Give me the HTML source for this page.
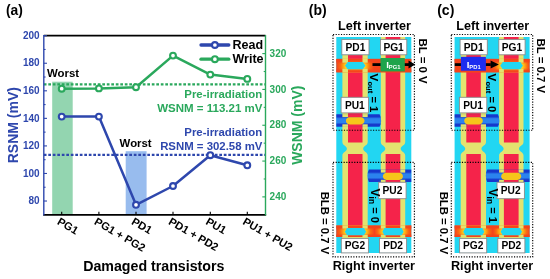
<!DOCTYPE html>
<html lang="en">
<head>
<meta charset="utf-8">
<title>Figure</title>
<style>
html,body{margin:0;padding:0;background:#fff;}
body{width:550px;height:279px;overflow:hidden;}
svg{display:block;font-family:'Liberation Sans', sans-serif;font-weight:bold;}
</style>
</head>
<body>
<svg width="550" height="279" viewBox="0 0 550 279">
<rect width="550" height="279" fill="#fff"/>
<rect x="52.2" y="81.7" width="20.5" height="133.1" fill="#93d5b0"/>
<rect x="125.7" y="151.2" width="20.9" height="63.6" fill="#98bcee"/>
<line x1="43.8" x2="265.5" y1="84.4" y2="84.4" stroke="#2aa85c" stroke-width="2.1" stroke-dasharray="2.7 1.8"/>
<line x1="43.8" x2="265.5" y1="154.9" y2="154.9" stroke="#2e47ad" stroke-width="2.1" stroke-dasharray="2.7 1.8"/>
<line x1="43.8" x2="265.5" y1="35.7" y2="35.7" stroke="#000" stroke-width="1.7"/>
<line x1="43.15" x2="266.15" y1="214.8" y2="214.8" stroke="#000" stroke-width="1.7"/>
<line x1="43.8" x2="43.8" y1="35.050000000000004" y2="215.45000000000002" stroke="#2e47ad" stroke-width="1.4"/>
<line x1="265.5" x2="265.5" y1="35.050000000000004" y2="215.45000000000002" stroke="#2aa85c" stroke-width="1.4"/>
<line x1="43.8" x2="47.0" y1="201.02" y2="201.02" stroke="#2e47ad" stroke-width="1.1"/>
<line x1="43.8" x2="45.599999999999994" y1="187.25" y2="187.25" stroke="#2e47ad" stroke-width="1.1"/>
<line x1="43.8" x2="47.0" y1="173.47" y2="173.47" stroke="#2e47ad" stroke-width="1.1"/>
<line x1="43.8" x2="45.599999999999994" y1="159.69" y2="159.69" stroke="#2e47ad" stroke-width="1.1"/>
<line x1="43.8" x2="47.0" y1="145.92" y2="145.92" stroke="#2e47ad" stroke-width="1.1"/>
<line x1="43.8" x2="45.599999999999994" y1="132.14" y2="132.14" stroke="#2e47ad" stroke-width="1.1"/>
<line x1="43.8" x2="47.0" y1="118.36" y2="118.36" stroke="#2e47ad" stroke-width="1.1"/>
<line x1="43.8" x2="45.599999999999994" y1="104.58" y2="104.58" stroke="#2e47ad" stroke-width="1.1"/>
<line x1="43.8" x2="47.0" y1="90.81" y2="90.81" stroke="#2e47ad" stroke-width="1.1"/>
<line x1="43.8" x2="45.599999999999994" y1="77.03" y2="77.03" stroke="#2e47ad" stroke-width="1.1"/>
<line x1="43.8" x2="47.0" y1="63.25" y2="63.25" stroke="#2e47ad" stroke-width="1.1"/>
<line x1="43.8" x2="45.599999999999994" y1="49.48" y2="49.48" stroke="#2e47ad" stroke-width="1.1"/>
<line x1="43.8" x2="47.0" y1="35.70" y2="35.70" stroke="#2e47ad" stroke-width="1.1"/>
<text x="39.6" y="204.22" text-anchor="end" font-size="10" fill="#2e47ad">80</text>
<text x="39.6" y="176.67" text-anchor="end" font-size="10" fill="#2e47ad">100</text>
<text x="39.6" y="149.12" text-anchor="end" font-size="10" fill="#2e47ad">120</text>
<text x="39.6" y="121.56" text-anchor="end" font-size="10" fill="#2e47ad">140</text>
<text x="39.6" y="94.01" text-anchor="end" font-size="10" fill="#2e47ad">160</text>
<text x="39.6" y="66.45" text-anchor="end" font-size="10" fill="#2e47ad">180</text>
<text x="39.6" y="38.90" text-anchor="end" font-size="10" fill="#2e47ad">200</text>
<line x1="265.5" x2="262.3" y1="196.89" y2="196.89" stroke="#2aa85c" stroke-width="1.1"/>
<line x1="265.5" x2="263.7" y1="178.98" y2="178.98" stroke="#2aa85c" stroke-width="1.1"/>
<line x1="265.5" x2="262.3" y1="161.07" y2="161.07" stroke="#2aa85c" stroke-width="1.1"/>
<line x1="265.5" x2="263.7" y1="143.16" y2="143.16" stroke="#2aa85c" stroke-width="1.1"/>
<line x1="265.5" x2="262.3" y1="125.25" y2="125.25" stroke="#2aa85c" stroke-width="1.1"/>
<line x1="265.5" x2="263.7" y1="107.34" y2="107.34" stroke="#2aa85c" stroke-width="1.1"/>
<line x1="265.5" x2="262.3" y1="89.43" y2="89.43" stroke="#2aa85c" stroke-width="1.1"/>
<line x1="265.5" x2="263.7" y1="71.52" y2="71.52" stroke="#2aa85c" stroke-width="1.1"/>
<line x1="265.5" x2="262.3" y1="53.61" y2="53.61" stroke="#2aa85c" stroke-width="1.1"/>
<text x="269.6" y="200.09" font-size="10" fill="#2aa85c">240</text>
<text x="269.6" y="164.27" font-size="10" fill="#2aa85c">260</text>
<text x="269.6" y="128.45" font-size="10" fill="#2aa85c">280</text>
<text x="269.6" y="92.63" font-size="10" fill="#2aa85c">300</text>
<text x="269.6" y="56.81" font-size="10" fill="#2aa85c">320</text>
<line x1="61.7" x2="61.7" y1="214.8" y2="211.8" stroke="#000" stroke-width="1.1"/>
<line x1="98.9" x2="98.9" y1="214.8" y2="211.8" stroke="#000" stroke-width="1.1"/>
<line x1="136.0" x2="136.0" y1="214.8" y2="211.8" stroke="#000" stroke-width="1.1"/>
<line x1="173.0" x2="173.0" y1="214.8" y2="211.8" stroke="#000" stroke-width="1.1"/>
<line x1="210.3" x2="210.3" y1="214.8" y2="211.8" stroke="#000" stroke-width="1.1"/>
<line x1="247.3" x2="247.3" y1="214.8" y2="211.8" stroke="#000" stroke-width="1.1"/>
<text transform="translate(56.4,223.7) rotate(30)" font-size="11" fill="#000">PG1</text>
<text transform="translate(93.6,223.7) rotate(30)" font-size="11" fill="#000">PG1 + PG2</text>
<text transform="translate(130.7,223.7) rotate(30)" font-size="11" fill="#000">PD1</text>
<text transform="translate(167.7,223.7) rotate(30)" font-size="11" fill="#000">PD1 + PD2</text>
<text transform="translate(205.0,223.7) rotate(30)" font-size="11" fill="#000">PU1</text>
<text transform="translate(242.0,223.7) rotate(30)" font-size="11" fill="#000">PU1 + PU2</text>
<polyline points="61.7,88.7 98.9,88.4 136.0,87.2 173.0,55.6 210.3,74.6 247.3,78.9" fill="none" stroke="#2aa85c" stroke-width="2.5" stroke-linejoin="round"/>
<circle cx="61.7" cy="88.7" r="2.9" fill="#fff" stroke="#2aa85c" stroke-width="2.1"/>
<circle cx="98.9" cy="88.4" r="2.9" fill="#fff" stroke="#2aa85c" stroke-width="2.1"/>
<circle cx="136.0" cy="87.2" r="2.9" fill="#fff" stroke="#2aa85c" stroke-width="2.1"/>
<circle cx="173.0" cy="55.6" r="2.9" fill="#fff" stroke="#2aa85c" stroke-width="2.1"/>
<circle cx="210.3" cy="74.6" r="2.9" fill="#fff" stroke="#2aa85c" stroke-width="2.1"/>
<circle cx="247.3" cy="78.9" r="2.9" fill="#fff" stroke="#2aa85c" stroke-width="2.1"/>
<polyline points="61.7,116.6 98.9,116.6 136.0,204.8 173.0,186.0 210.3,155.2 247.3,165.3" fill="none" stroke="#2e47ad" stroke-width="2.5" stroke-linejoin="round"/>
<circle cx="61.7" cy="116.6" r="2.9" fill="#fff" stroke="#2e47ad" stroke-width="2.1"/>
<circle cx="98.9" cy="116.6" r="2.9" fill="#fff" stroke="#2e47ad" stroke-width="2.1"/>
<circle cx="136.0" cy="204.8" r="2.9" fill="#fff" stroke="#2e47ad" stroke-width="2.1"/>
<circle cx="173.0" cy="186.0" r="2.9" fill="#fff" stroke="#2e47ad" stroke-width="2.1"/>
<circle cx="210.3" cy="155.2" r="2.9" fill="#fff" stroke="#2e47ad" stroke-width="2.1"/>
<circle cx="247.3" cy="165.3" r="2.9" fill="#fff" stroke="#2e47ad" stroke-width="2.1"/>
<line x1="201" x2="228.8" y1="45.0" y2="45.0" stroke="#2e47ad" stroke-width="3.3" stroke-linecap="round"/>
<circle cx="214.9" cy="45.0" r="2.9" fill="#fff" stroke="#2e47ad" stroke-width="2.1"/>
<text x="232.5" y="48.6" font-size="12.5" fill="#000">Read</text>
<line x1="201" x2="228.8" y1="59.2" y2="59.2" stroke="#2aa85c" stroke-width="3.3" stroke-linecap="round"/>
<circle cx="214.9" cy="59.2" r="2.9" fill="#fff" stroke="#2aa85c" stroke-width="2.1"/>
<text x="232.5" y="62.8" font-size="12.5" fill="#000">Write</text>
<text x="47.0" y="76.9" font-size="11.4" fill="#000">Worst</text>
<text x="119.6" y="147" font-size="11.4" fill="#000">Worst</text>
<text x="262.2" y="98" text-anchor="end" font-size="11.4" fill="#2aa85c">Pre-irradiation</text>
<text x="262.4" y="112.1" text-anchor="end" font-size="11.5" fill="#2aa85c">WSNM = 113.21 mV</text>
<text x="262.2" y="136.4" text-anchor="end" font-size="11.4" fill="#2e47ad">Pre-irradiation</text>
<text x="262.4" y="150.4" text-anchor="end" font-size="11.4" fill="#2e47ad">RSNM = 302.58 mV</text>
<text transform="translate(17.5,125.2) rotate(-90)" text-anchor="middle" font-size="14" fill="#2e47ad">RSNM (mV)</text>
<text transform="translate(301.5,125.2) rotate(-90)" text-anchor="middle" font-size="14" fill="#2aa85c">WSNM (mV)</text>
<text x="153.8" y="271.4" text-anchor="middle" font-size="14.2" fill="#000">Damaged transistors</text>
<text x="6" y="15" font-size="13.8" fill="#000">(a)</text>
<text x="308.8" y="14.9" font-size="14" fill="#000">(b)</text>
<text x="437.2" y="15" font-size="14" fill="#000">(c)</text>
<g transform="translate(0,0)"><rect x="336.3" y="37.0" width="75.0" height="216.0" fill="#22d6f2"/>
<path d="M342.4,55 H367.7 V142.0 C367.7,145.6 363.2,145.8 363.2,148.8 C363.2,151.8 367.7,152.0 367.7,155.6 V238.4 H342.4 V155.6 C342.4,152.0 346.9,151.8 346.9,148.8 C346.9,145.8 342.4,145.6 342.4,142.0 Z" fill="#e3e36f"/>
<rect x="348.0" y="55" width="14.5" height="87.5" fill="#f5234a"/>
<rect x="348.0" y="154" width="14.5" height="82.8" fill="#f5234a"/>
<path d="M380.8,37 H405.2 V142.0 C405.2,145.6 400.7,145.8 400.7,148.8 C400.7,151.8 405.2,152.0 405.2,155.6 V238.4 H380.8 V155.6 C380.8,152.0 385.3,151.8 385.3,148.8 C385.3,145.8 380.8,145.6 380.8,142.0 Z" fill="#e3e36f"/>
<rect x="385.6" y="37" width="14.7" height="105.5" fill="#f5234a"/>
<rect x="385.6" y="154" width="14.7" height="82.8" fill="#f5234a"/>
<linearGradient id="gtopb" x1="0" x2="1" y1="0" y2="0"><stop offset="0.0%" stop-color="#f4431b"/><stop offset="0.5%" stop-color="#f4431b"/><stop offset="5.9%" stop-color="#fa6c12"/><stop offset="9.9%" stop-color="#ffae14"/><stop offset="12.9%" stop-color="#ffd820"/><stop offset="37.6%" stop-color="#ffd820"/><stop offset="40.7%" stop-color="#ffae14"/><stop offset="44.7%" stop-color="#fa6c12"/><stop offset="50.0%" stop-color="#f4431b"/><stop offset="100.0%" stop-color="#f4431b"/></linearGradient>
<linearGradient id="gtopbv" x1="0" x2="0" y1="0" y2="1"><stop offset="0" stop-color="#f4431b" stop-opacity="1"/><stop offset="0.18" stop-color="#f4431b" stop-opacity="0.95"/><stop offset="0.38" stop-color="#f4431b" stop-opacity="0"/><stop offset="0.68" stop-color="#f4431b" stop-opacity="0"/><stop offset="0.88" stop-color="#f4431b" stop-opacity="0.95"/><stop offset="1" stop-color="#f4431b" stop-opacity="1"/></linearGradient>
<rect x="336.3" y="58.9" width="75.0" height="13.4" fill="url(#gtopb)"/>
<rect x="336.3" y="58.9" width="75.0" height="13.4" fill="url(#gtopbv)"/>
<rect x="342.4" y="58.7" width="5.6" height="4.0" fill="#e3e36f"/>
<rect x="342.4" y="68.7" width="5.6" height="3.8" fill="#e3e36f"/>
<rect x="362.5" y="58.7" width="5.2" height="4.0" fill="#e3e36f"/>
<rect x="362.5" y="68.7" width="5.2" height="3.8" fill="#e3e36f"/>
<path d="M345.8,65.7 L348.0,62.7 H362.5 L364.7,65.7 L362.5,68.7 H348.0 Z" fill="#22d6f2" stroke="#22d6f2" stroke-width="1.2" stroke-linejoin="round"/>
<linearGradient id="gbotb" x1="0" x2="1" y1="0" y2="0"><stop offset="0.0%" stop-color="#f4431b"/><stop offset="0.3%" stop-color="#f4431b"/><stop offset="5.6%" stop-color="#fa6c12"/><stop offset="9.6%" stop-color="#ffae14"/><stop offset="12.7%" stop-color="#ffd820"/><stop offset="38.5%" stop-color="#ffd820"/><stop offset="41.6%" stop-color="#ffae14"/><stop offset="45.6%" stop-color="#fa6c12"/><stop offset="50.9%" stop-color="#f4431b"/><stop offset="50.9%" stop-color="#f4431b"/><stop offset="55.5%" stop-color="#fa6c12"/><stop offset="59.5%" stop-color="#ffae14"/><stop offset="62.5%" stop-color="#ffd820"/><stop offset="88.7%" stop-color="#ffd820"/><stop offset="91.7%" stop-color="#ffae14"/><stop offset="95.7%" stop-color="#fa6c12"/><stop offset="100.0%" stop-color="#f4431b"/><stop offset="100.0%" stop-color="#f4431b"/></linearGradient>
<linearGradient id="gbotbv" x1="0" x2="0" y1="0" y2="1"><stop offset="0" stop-color="#f4431b" stop-opacity="1"/><stop offset="0.18" stop-color="#f4431b" stop-opacity="0.95"/><stop offset="0.38" stop-color="#f4431b" stop-opacity="0"/><stop offset="0.68" stop-color="#f4431b" stop-opacity="0"/><stop offset="0.88" stop-color="#f4431b" stop-opacity="0.95"/><stop offset="1" stop-color="#f4431b" stop-opacity="1"/></linearGradient>
<rect x="336.3" y="225.5" width="75.0" height="11.5" fill="url(#gbotb)"/>
<rect x="336.3" y="225.5" width="75.0" height="11.5" fill="url(#gbotbv)"/>
<rect x="342.4" y="225.3" width="5.6" height="3.3" fill="#e3e36f"/>
<rect x="342.4" y="234.7" width="5.6" height="2.5" fill="#e3e36f"/>
<rect x="362.5" y="225.3" width="5.2" height="3.3" fill="#e3e36f"/>
<rect x="362.5" y="234.7" width="5.2" height="2.5" fill="#e3e36f"/>
<path d="M345.6,231.7 L347.4,228.6 H363.6 L365.4,231.7 L363.6,234.7 H347.4 Z" fill="#22d6f2" stroke="#22d6f2" stroke-width="1.2" stroke-linejoin="round"/>
<rect x="380.8" y="225.3" width="4.8" height="3.3" fill="#e3e36f"/>
<rect x="380.8" y="234.7" width="4.8" height="2.5" fill="#e3e36f"/>
<rect x="400.3" y="225.3" width="4.9" height="3.3" fill="#e3e36f"/>
<rect x="400.3" y="234.7" width="4.9" height="2.5" fill="#e3e36f"/>
<path d="M383.0,231.7 L384.8,228.6 H401.2 L403.0,231.7 L401.2,234.7 H384.8 Z" fill="#22d6f2" stroke="#22d6f2" stroke-width="1.2" stroke-linejoin="round"/>
<rect x="342.4" y="236.9" width="5.6" height="1.6" fill="#e3e36f"/>
<rect x="362.5" y="236.9" width="5.2" height="1.6" fill="#e3e36f"/>
<rect x="380.8" y="236.9" width="4.8" height="1.6" fill="#e3e36f"/>
<rect x="400.3" y="236.9" width="4.9" height="1.6" fill="#e3e36f"/>
<linearGradient id="blb" x1="0" x2="0" y1="0" y2="1"><stop offset="0" stop-color="#1638cc"/><stop offset="0.2" stop-color="#1638cc"/><stop offset="0.36" stop-color="#2b83ee"/><stop offset="0.66" stop-color="#2b83ee"/><stop offset="0.82" stop-color="#1638cc"/><stop offset="1" stop-color="#1638cc"/></linearGradient>
<path d="M336.3,114.2 H379.6 Q382.6,120.5 379.6,126.8 H336.3 Z" fill="url(#blb)"/>
<path d="M411.3,169.6 H368.9 Q366.1,175.7 368.9,181.9 H411.3 Z" fill="url(#blb)"/>
<rect x="348" y="114.1" width="14.5" height="3.4" fill="#f5234a"/>
<rect x="348" y="124.0" width="14.5" height="2.9" fill="#f5234a"/>
<rect x="385.6" y="169.4" width="14.7" height="3.6" fill="#f5234a"/>
<rect x="385.6" y="179.6" width="14.7" height="2.5" fill="#f5234a"/>
<rect x="342.4" y="114.1" width="5.6" height="3.0" fill="#e3e36f"/>
<rect x="342.4" y="124.3" width="5.6" height="2.6" fill="#e3e36f"/>
<rect x="362.5" y="114.1" width="5.2" height="3.0" fill="#e3e36f"/>
<rect x="362.5" y="124.3" width="5.2" height="2.6" fill="#e3e36f"/>
<rect x="380.8" y="169.4" width="4.8" height="3.2" fill="#e3e36f"/>
<rect x="380.8" y="179.8" width="4.8" height="2.3" fill="#e3e36f"/>
<rect x="400.3" y="169.4" width="4.9" height="3.2" fill="#e3e36f"/>
<rect x="400.3" y="179.8" width="4.9" height="2.3" fill="#e3e36f"/>
<path d="M345.9,120.8 C345.9,118.6 347.6,117.2 349.6,117.2 H360.8 C362.8,117.2 364.5,118.6 364.5,120.8 C364.5,123 362.8,124.4 360.8,124.4 H349.6 C347.6,124.4 345.9,123 345.9,120.8 Z" fill="#f6c61a"/>
<path d="M382.9,176.3 C382.9,174.1 384.6,172.7 386.6,172.7 H399.2 C401.2,172.7 402.9,174.1 402.9,176.3 C402.9,178.5 401.2,179.9 399.2,179.9 H386.6 C384.6,179.9 382.9,178.5 382.9,176.3 Z" fill="#f6c61a"/>
<rect x="341.8" y="39.4" width="27.2" height="15.4" fill="#fff" stroke="#8a8a8a" stroke-width="0.9"/>
<text x="355.4" y="50.8" text-anchor="middle" font-size="10.2" fill="#000">PD1</text>
<rect x="380.5" y="39.4" width="26.3" height="15.4" fill="#fff" stroke="#8a8a8a" stroke-width="0.9"/>
<text x="393.6" y="50.8" text-anchor="middle" font-size="10.2" fill="#000">PG1</text>
<rect x="341.1" y="97.3" width="27.4" height="15.6" fill="#fff" stroke="#8a8a8a" stroke-width="0.9"/>
<text x="354.8" y="108.8" text-anchor="middle" font-size="10.2" fill="#000">PU1</text>
<rect x="378.7" y="182.3" width="27.4" height="16.4" fill="#fff" stroke="#8a8a8a" stroke-width="0.9"/>
<text x="392.4" y="194.2" text-anchor="middle" font-size="10.2" fill="#000">PU2</text>
<rect x="341.3" y="238.4" width="27.1" height="14.5" fill="#fff" stroke="#8a8a8a" stroke-width="0.9"/>
<text x="354.9" y="249.3" text-anchor="middle" font-size="10.2" fill="#000">PG2</text>
<rect x="379.5" y="238.4" width="27.1" height="14.5" fill="#fff" stroke="#8a8a8a" stroke-width="0.9"/>
<text x="393.1" y="249.3" text-anchor="middle" font-size="10.2" fill="#000">PD2</text>
<rect x="372.5" y="63.2" width="37" height="2.8" fill="#000"/>
<path d="M408.5,60.4 L415.3,64.6 L408.5,68.6 Z" fill="#000"/>
<rect x="380.5" y="58" width="24.3" height="13.4" fill="#1fa44b"/>
<text x="386.2" y="67.6" font-size="9.6" fill="#fff">I<tspan font-size="5.8" dy="1.2">PG1</tspan></text>
<rect x="333" y="34.5" width="81.4" height="95.7" fill="none" stroke="#000" stroke-width="1.15" stroke-dasharray="1.15 1.5"/>
<rect x="333" y="162.4" width="81.4" height="94.5" fill="none" stroke="#000" stroke-width="1.15" stroke-dasharray="1.15 1.5"/>
<text x="338" y="30.4" font-size="12.6" fill="#000">Left inverter</text>
<text x="332.7" y="270.4" font-size="12.65" fill="#000">Right inverter</text>
<text transform="translate(369.9,73.6) rotate(90)" font-size="11.8" fill="#000">V<tspan font-size="7.6" dy="2">out</tspan><tspan dy="-2" font-size="11.2"> = 1</tspan></text>
<text transform="translate(370.8,188.6) rotate(90)" font-size="12" fill="#000">V<tspan font-size="8.4" dy="2">in</tspan><tspan dy="-2" font-size="11.2"> = 0</tspan></text>
<text transform="translate(419,38.5) rotate(90)" font-size="11.4" fill="#000">BL = 0 V</text>
<text transform="translate(321.2,254.2) rotate(90)" text-anchor="end" font-size="11.3" fill="#000">BLB = 0.7 V</text></g>
<g transform="translate(118.3,0)"><rect x="336.3" y="37.0" width="75.0" height="216.0" fill="#22d6f2"/>
<path d="M342.4,55 H367.7 V142.0 C367.7,145.6 363.2,145.8 363.2,148.8 C363.2,151.8 367.7,152.0 367.7,155.6 V238.4 H342.4 V155.6 C342.4,152.0 346.9,151.8 346.9,148.8 C346.9,145.8 342.4,145.6 342.4,142.0 Z" fill="#e3e36f"/>
<rect x="348.0" y="55" width="14.5" height="87.5" fill="#f5234a"/>
<rect x="348.0" y="154" width="14.5" height="82.8" fill="#f5234a"/>
<path d="M380.8,37 H405.2 V142.0 C405.2,145.6 400.7,145.8 400.7,148.8 C400.7,151.8 405.2,152.0 405.2,155.6 V238.4 H380.8 V155.6 C380.8,152.0 385.3,151.8 385.3,148.8 C385.3,145.8 380.8,145.6 380.8,142.0 Z" fill="#e3e36f"/>
<rect x="385.6" y="37" width="14.7" height="105.5" fill="#f5234a"/>
<rect x="385.6" y="154" width="14.7" height="82.8" fill="#f5234a"/>
<linearGradient id="gtopc" x1="0" x2="1" y1="0" y2="0"><stop offset="0.0%" stop-color="#f4431b"/><stop offset="49.6%" stop-color="#f4431b"/><stop offset="54.9%" stop-color="#fa6c12"/><stop offset="58.9%" stop-color="#ffae14"/><stop offset="62.0%" stop-color="#ffd820"/><stop offset="89.9%" stop-color="#ffd820"/><stop offset="92.9%" stop-color="#ffae14"/><stop offset="96.9%" stop-color="#fa6c12"/><stop offset="100.0%" stop-color="#f4431b"/><stop offset="100.0%" stop-color="#f4431b"/></linearGradient>
<linearGradient id="gtopcv" x1="0" x2="0" y1="0" y2="1"><stop offset="0" stop-color="#f4431b" stop-opacity="1"/><stop offset="0.18" stop-color="#f4431b" stop-opacity="0.95"/><stop offset="0.38" stop-color="#f4431b" stop-opacity="0"/><stop offset="0.68" stop-color="#f4431b" stop-opacity="0"/><stop offset="0.88" stop-color="#f4431b" stop-opacity="0.95"/><stop offset="1" stop-color="#f4431b" stop-opacity="1"/></linearGradient>
<rect x="336.3" y="58.9" width="75.0" height="13.4" fill="url(#gtopc)"/>
<rect x="336.3" y="58.9" width="75.0" height="13.4" fill="url(#gtopcv)"/>
<rect x="380.8" y="58.7" width="4.8" height="4.0" fill="#e3e36f"/>
<rect x="380.8" y="68.7" width="4.8" height="3.8" fill="#e3e36f"/>
<rect x="400.3" y="58.7" width="4.9" height="4.0" fill="#e3e36f"/>
<rect x="400.3" y="68.7" width="4.9" height="3.8" fill="#e3e36f"/>
<path d="M382.6,65.7 L384.8,62.7 H401.7 L403.9,65.7 L401.7,68.7 H384.8 Z" fill="#22d6f2" stroke="#22d6f2" stroke-width="1.2" stroke-linejoin="round"/>
<linearGradient id="gbotc" x1="0" x2="1" y1="0" y2="0"><stop offset="0.0%" stop-color="#f4431b"/><stop offset="0.3%" stop-color="#f4431b"/><stop offset="5.6%" stop-color="#fa6c12"/><stop offset="9.6%" stop-color="#ffae14"/><stop offset="12.7%" stop-color="#ffd820"/><stop offset="38.5%" stop-color="#ffd820"/><stop offset="41.6%" stop-color="#ffae14"/><stop offset="45.6%" stop-color="#fa6c12"/><stop offset="50.9%" stop-color="#f4431b"/><stop offset="50.9%" stop-color="#f4431b"/><stop offset="55.5%" stop-color="#fa6c12"/><stop offset="59.5%" stop-color="#ffae14"/><stop offset="62.5%" stop-color="#ffd820"/><stop offset="88.7%" stop-color="#ffd820"/><stop offset="91.7%" stop-color="#ffae14"/><stop offset="95.7%" stop-color="#fa6c12"/><stop offset="100.0%" stop-color="#f4431b"/><stop offset="100.0%" stop-color="#f4431b"/></linearGradient>
<linearGradient id="gbotcv" x1="0" x2="0" y1="0" y2="1"><stop offset="0" stop-color="#f4431b" stop-opacity="1"/><stop offset="0.18" stop-color="#f4431b" stop-opacity="0.95"/><stop offset="0.38" stop-color="#f4431b" stop-opacity="0"/><stop offset="0.68" stop-color="#f4431b" stop-opacity="0"/><stop offset="0.88" stop-color="#f4431b" stop-opacity="0.95"/><stop offset="1" stop-color="#f4431b" stop-opacity="1"/></linearGradient>
<rect x="336.3" y="225.5" width="75.0" height="11.5" fill="url(#gbotc)"/>
<rect x="336.3" y="225.5" width="75.0" height="11.5" fill="url(#gbotcv)"/>
<rect x="342.4" y="225.3" width="5.6" height="3.3" fill="#e3e36f"/>
<rect x="342.4" y="234.7" width="5.6" height="2.5" fill="#e3e36f"/>
<rect x="362.5" y="225.3" width="5.2" height="3.3" fill="#e3e36f"/>
<rect x="362.5" y="234.7" width="5.2" height="2.5" fill="#e3e36f"/>
<path d="M345.6,231.7 L347.4,228.6 H363.6 L365.4,231.7 L363.6,234.7 H347.4 Z" fill="#22d6f2" stroke="#22d6f2" stroke-width="1.2" stroke-linejoin="round"/>
<rect x="380.8" y="225.3" width="4.8" height="3.3" fill="#e3e36f"/>
<rect x="380.8" y="234.7" width="4.8" height="2.5" fill="#e3e36f"/>
<rect x="400.3" y="225.3" width="4.9" height="3.3" fill="#e3e36f"/>
<rect x="400.3" y="234.7" width="4.9" height="2.5" fill="#e3e36f"/>
<path d="M383.0,231.7 L384.8,228.6 H401.2 L403.0,231.7 L401.2,234.7 H384.8 Z" fill="#22d6f2" stroke="#22d6f2" stroke-width="1.2" stroke-linejoin="round"/>
<rect x="342.4" y="236.9" width="5.6" height="1.6" fill="#e3e36f"/>
<rect x="362.5" y="236.9" width="5.2" height="1.6" fill="#e3e36f"/>
<rect x="380.8" y="236.9" width="4.8" height="1.6" fill="#e3e36f"/>
<rect x="400.3" y="236.9" width="4.9" height="1.6" fill="#e3e36f"/>
<linearGradient id="blc" x1="0" x2="0" y1="0" y2="1"><stop offset="0" stop-color="#1638cc"/><stop offset="0.2" stop-color="#1638cc"/><stop offset="0.36" stop-color="#2b83ee"/><stop offset="0.66" stop-color="#2b83ee"/><stop offset="0.82" stop-color="#1638cc"/><stop offset="1" stop-color="#1638cc"/></linearGradient>
<path d="M336.3,114.2 H379.6 Q382.6,120.5 379.6,126.8 H336.3 Z" fill="url(#blc)"/>
<path d="M411.3,169.6 H368.9 Q366.1,175.7 368.9,181.9 H411.3 Z" fill="url(#blc)"/>
<rect x="348" y="114.1" width="14.5" height="3.4" fill="#f5234a"/>
<rect x="348" y="124.0" width="14.5" height="2.9" fill="#f5234a"/>
<rect x="385.6" y="169.4" width="14.7" height="3.6" fill="#f5234a"/>
<rect x="385.6" y="179.6" width="14.7" height="2.5" fill="#f5234a"/>
<rect x="342.4" y="114.1" width="5.6" height="3.0" fill="#e3e36f"/>
<rect x="342.4" y="124.3" width="5.6" height="2.6" fill="#e3e36f"/>
<rect x="362.5" y="114.1" width="5.2" height="3.0" fill="#e3e36f"/>
<rect x="362.5" y="124.3" width="5.2" height="2.6" fill="#e3e36f"/>
<rect x="380.8" y="169.4" width="4.8" height="3.2" fill="#e3e36f"/>
<rect x="380.8" y="179.8" width="4.8" height="2.3" fill="#e3e36f"/>
<rect x="400.3" y="169.4" width="4.9" height="3.2" fill="#e3e36f"/>
<rect x="400.3" y="179.8" width="4.9" height="2.3" fill="#e3e36f"/>
<path d="M345.9,120.8 C345.9,118.6 347.6,117.2 349.6,117.2 H360.8 C362.8,117.2 364.5,118.6 364.5,120.8 C364.5,123 362.8,124.4 360.8,124.4 H349.6 C347.6,124.4 345.9,123 345.9,120.8 Z" fill="#f6c61a"/>
<path d="M382.9,176.3 C382.9,174.1 384.6,172.7 386.6,172.7 H399.2 C401.2,172.7 402.9,174.1 402.9,176.3 C402.9,178.5 401.2,179.9 399.2,179.9 H386.6 C384.6,179.9 382.9,178.5 382.9,176.3 Z" fill="#f6c61a"/>
<rect x="341.8" y="39.4" width="27.2" height="15.4" fill="#fff" stroke="#8a8a8a" stroke-width="0.9"/>
<text x="355.4" y="50.8" text-anchor="middle" font-size="10.2" fill="#000">PD1</text>
<rect x="380.5" y="39.4" width="26.3" height="15.4" fill="#fff" stroke="#8a8a8a" stroke-width="0.9"/>
<text x="393.6" y="50.8" text-anchor="middle" font-size="10.2" fill="#000">PG1</text>
<rect x="341.1" y="97.3" width="27.4" height="15.6" fill="#fff" stroke="#8a8a8a" stroke-width="0.9"/>
<text x="354.8" y="108.8" text-anchor="middle" font-size="10.2" fill="#000">PU1</text>
<rect x="378.7" y="182.3" width="27.4" height="16.4" fill="#fff" stroke="#8a8a8a" stroke-width="0.9"/>
<text x="392.4" y="194.2" text-anchor="middle" font-size="10.2" fill="#000">PU2</text>
<rect x="341.3" y="238.4" width="27.1" height="14.5" fill="#fff" stroke="#8a8a8a" stroke-width="0.9"/>
<text x="354.9" y="249.3" text-anchor="middle" font-size="10.2" fill="#000">PG2</text>
<rect x="379.5" y="238.4" width="27.1" height="14.5" fill="#fff" stroke="#8a8a8a" stroke-width="0.9"/>
<text x="393.1" y="249.3" text-anchor="middle" font-size="10.2" fill="#000">PD2</text>
<rect x="336.5" y="63.2" width="36" height="2.8" fill="#000"/>
<path d="M372.3,60.4 L380.6,64.6 L372.3,68.6 Z" fill="#000"/>
<rect x="342.6" y="56.8" width="25" height="13.9" fill="#1c2cf0"/>
<text x="348.4" y="67.6" font-size="9.6" fill="#fff">I<tspan font-size="5.8" dy="1.2">PD1</tspan></text>
<rect x="333" y="34.5" width="81.4" height="95.7" fill="none" stroke="#000" stroke-width="1.15" stroke-dasharray="1.15 1.5"/>
<rect x="333" y="162.4" width="81.4" height="94.5" fill="none" stroke="#000" stroke-width="1.15" stroke-dasharray="1.15 1.5"/>
<text x="338" y="30.4" font-size="12.6" fill="#000">Left inverter</text>
<text x="332.7" y="270.4" font-size="12.65" fill="#000">Right inverter</text>
<text transform="translate(369.9,73.6) rotate(90)" font-size="11.8" fill="#000">V<tspan font-size="7.6" dy="2">out</tspan><tspan dy="-2" font-size="11.2"> = 0</tspan></text>
<text transform="translate(370.8,188.6) rotate(90)" font-size="12" fill="#000">V<tspan font-size="8.4" dy="2">in</tspan><tspan dy="-2" font-size="11.2"> = 1</tspan></text>
<text transform="translate(419,38.5) rotate(90)" font-size="11.4" fill="#000">BL = 0.7 V</text>
<text transform="translate(321.2,254.2) rotate(90)" text-anchor="end" font-size="11.3" fill="#000">BLB = 0.7 V</text></g>
</svg>
</body>
</html>
